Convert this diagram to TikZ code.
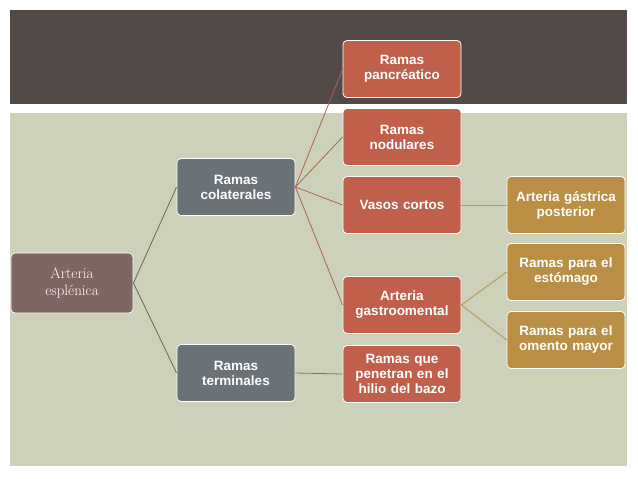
\documentclass[tikz,border=0pt]{standalone}
\usepackage{fontspec}
\setsansfont{Liberation Sans}
\definecolor{dark}{HTML}{534A48}
\definecolor{bg}{HTML}{CDD1BA}
\definecolor{rootc}{HTML}{7D6762}
\definecolor{grayc}{HTML}{6A7177}
\definecolor{redc}{HTML}{C0604A}
\definecolor{goldc}{HTML}{BA8F45}
\definecolor{linered}{HTML}{B0624C}
\definecolor{linegold}{HTML}{B89A5E}
\begin{document}
\begin{tikzpicture}[x=1pt,y=-1pt,
 box/.style={draw=white,line width=0.8pt,rounded corners=4pt,minimum width=118pt,minimum height=57pt,text width=117pt,align=center,text=white,font=\sffamily\bfseries\fontsize{13.5}{15}\selectfont,inner sep=0.5pt},
 rootbox/.style={box,fill=rootc,minimum width=122pt,minimum height=60pt,font=\rmfamily\fontsize{15}{17}\selectfont},
 graybox/.style={box,fill=grayc},
 redbox/.style={box,fill=redc},
 goldbox/.style={box,fill=goldc},
 l1/.style={draw=grayc!90!black,line width=0.8pt},
 l2/.style={draw=linered,line width=0.8pt},
 l3/.style={draw=linegold,line width=1pt}]
\useasboundingbox (0,0) rectangle (638,479);
\fill[white] (0,0) rectangle (638,479);
\fill[dark] (10,10) rectangle (627,104);
\fill[bg] (10,113) rectangle (627,466);
\node[rootbox] (r) at (72,283) {Arteria\\esplénica};
\node[graybox] (c) at (236,187) {Ramas\\colaterales};
\node[graybox] (t) at (236,373) {Ramas\\terminales};
\node[redbox] (p) at (402,69) {Ramas\\pancréatico};
\node[redbox] (n) at (402,137) {Ramas\\nodulares};
\node[redbox] (v) at (402,205) {Vasos cortos};
\node[redbox] (g) at (402,305) {Arteria\\gastroomental};
\node[redbox] (h) at (402,374) {Ramas que\\penetran en el\\hilio del bazo};
\node[goldbox] (a) at (566,205) {Arteria gástrica\\posterior};
\node[goldbox] (e) at (566,272) {Ramas para el\\estómago};
\node[goldbox] (o) at (566,340) {Ramas para el\\omento mayor};
\draw[l1] (r.east) -- (c.west);
\draw[l1] (r.east) -- (t.west);
\draw[l2] (c.east) -- (p.west);
\draw[l2] (c.east) -- (n.west);
\draw[l2] (c.east) -- (v.west);
\draw[l2] (c.east) -- (g.west);
\draw[l2] (t.east) -- (h.west);
\draw[l3] (v.east) -- (a.west);
\draw[l3] (g.east) -- (e.west);
\draw[l3] (g.east) -- (o.west);
\end{tikzpicture}
\end{document}
